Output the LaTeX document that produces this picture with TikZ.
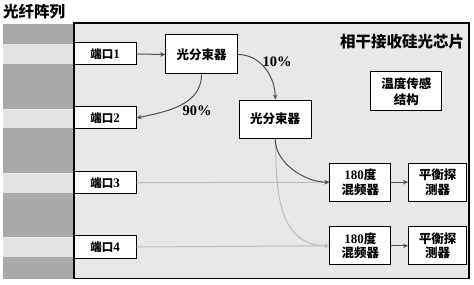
\documentclass[tikz,border=0pt]{standalone}
\usepackage{fontspec}
\setmainfont{Liberation Serif}
\newfontfamily\cjk{Noto Sans CJK SC}
\usetikzlibrary{arrows.meta}
\definecolor{darkstripe}{HTML}{A9A9A9}
\definecolor{lightstripe}{HTML}{E3E3E3}
\definecolor{chipfill}{HTML}{E8E8E8}
\definecolor{darkline}{HTML}{4F4F4F}
\definecolor{lightline}{HTML}{BDBDBD}
\newcommand\zh[1]{{\cjk #1}}
\newcommand\portlabel[1]{\zh{端口}{\fontsize{13}{13}\selectfont #1}}
\begin{document}
\begin{tikzpicture}[x=1pt,y=1pt,
  box/.style={draw=black,line width=1pt,fill=white,inner sep=0pt,align=center,font=\bfseries\fontsize{12.5}{14.5}\selectfont},
  portbox/.style={box,minimum width=62pt,minimum height=22pt,font=\bfseries\fontsize{11.5}{13}\selectfont},
  darkarrow/.style={draw=darkline,line width=1pt,-{Stealth[length=5pt,width=4.5pt]}},
  lightarrow/.style={draw=lightline,line width=1pt,-{Stealth[length=5pt,width=4.5pt]}},
  pct/.style={font=\bfseries\fontsize{14.5}{16}\selectfont,inner sep=0pt}]
\useasboundingbox (0,0) rectangle (474,284);
\fill[white] (0,0) rectangle (474,284);
% fiber array stripes
\fill[darkstripe] (3,260) rectangle (74,240);
\fill[lightstripe] (3,240) rectangle (74,220);
\fill[darkstripe] (3,220) rectangle (74,175);
\fill[lightstripe] (3,175) rectangle (74,156);
\fill[darkstripe] (3,156) rectangle (74,110.5);
\fill[lightstripe] (3,110.5) rectangle (74,91);
\fill[darkstripe] (3,91) rectangle (74,46.5);
\fill[lightstripe] (3,46.5) rectangle (74,27);
\fill[darkstripe] (3,27) rectangle (74,5.5);
\node[font=\fontsize{15.5}{17}\selectfont\cjk\bfseries,inner sep=0pt] (fiber) at (34,272) {光纤阵列};
% chip
\draw[fill=chipfill,line width=1.3pt] (74,261) rectangle (469,5.5);
\node[font=\fontsize{15.5}{17}\selectfont\cjk\bfseries,inner sep=0pt] (title) at (402,242) {相干接收硅光芯片};
% ports
\node[portbox] (p1) at (105,230) {\portlabel{1}};
\node[portbox] (p2) at (105,166) {\portlabel{2}};
\node[portbox] (p3) at (105,101.3) {\portlabel{3}};
\node[portbox] (p4) at (105,37) {\portlabel{4}};
% splitters
\node[box,minimum width=71.6pt,minimum height=39pt] (sp1) at (201.5,229.5) {\zh{光分束器}};
\node[box,minimum width=71.7pt,minimum height=38.3pt] (sp2) at (275.2,164.8) {\zh{光分束器}};
% temperature
\node[box,minimum width=71.3pt,minimum height=39pt,font=\bfseries\fontsize{12.5}{15.7}\selectfont] (temp) at (406.3,192.5) {\zh{温度传感}\\\zh{结构}};
% mixers and detectors
\node[box,minimum width=60.7pt,minimum height=37.7pt] (m1) at (360.3,101.8) {{\fontsize{13}{14.5}\selectfont 180}\zh{度}\\\zh{混频器}};
\node[box,minimum width=58pt,minimum height=37.7pt] (d1) at (437.5,101.8) {\zh{平衡探}\\\zh{测器}};
\node[box,minimum width=60.7pt,minimum height=37.7pt] (m2) at (360.3,38.2) {{\fontsize{13}{14.5}\selectfont 180}\zh{度}\\\zh{混频器}};
\node[box,minimum width=58pt,minimum height=37.7pt] (d2) at (437.5,38.2) {\zh{平衡探}\\\zh{测器}};
% light connectors
\draw[lightarrow] (p3.east) -- (m1.west);
\draw[lightarrow] (p4.east) -- (m2.west);
\draw[lightarrow] ([xshift=0.5pt]sp2.south) to[out=-90,in=180,looseness=1.1] (m2.west);
% dark connectors
\draw[darkarrow] (p1.east) -- (sp1.west);
\draw[darkarrow] (sp1.south) to[out=-90,in=12,looseness=1] (p2.east);
\draw[darkarrow] (sp1.east) to[out=0,in=90,looseness=1] (sp2.north);
\draw[darkarrow] (sp2.south) to[out=-90,in=180,looseness=0.9] (m1.west);
\draw[darkarrow] (m1.east) -- (d1.west);
\draw[darkarrow] (m2.east) -- (d2.west);
% labels
\node[pct] (l90) at (197,173) {90\%};
\node[pct] (l10) at (277,222) {10\%};
\end{tikzpicture}
\end{document}
